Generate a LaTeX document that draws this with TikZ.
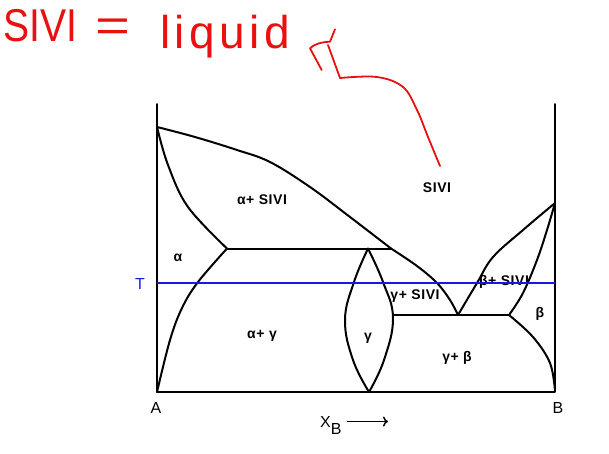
\documentclass[tikz,border=0pt]{standalone}
\usepackage{fontspec}
\usetikzlibrary{arrows.meta}
\setmainfont{Liberation Sans}
\definecolor{handred}{RGB}{232,16,16}
\definecolor{tblue}{RGB}{24,24,230}
\begin{document}
\begin{tikzpicture}[x=1pt,y=-1pt,
  curve/.style={line width=2pt, line join=round, line cap=round},
  lbl/.style={font=\fontsize{14}{14}\selectfont\bfseries\addfontfeature{LetterSpace=4}, inner sep=0pt},
  axlbl/.style={font=\fontsize{16}{16}\selectfont, inner sep=0pt},
  hand/.style={draw=handred, line width=1.8pt, line cap=round, line join=round},
  handtext/.style={text=handred, font=\fontsize{46}{46}\selectfont, inner sep=0pt}]
\useasboundingbox (0,0) rectangle (609,453);
% key points
\coordinate (Atop) at (157,104);
\coordinate (A0) at (157,392);
\coordinate (B0) at (555,392);
\coordinate (Btop) at (555,104);
\coordinate (Am) at (157,127);
\coordinate (P1) at (227,248.5);
\coordinate (P2) at (391,248.5);
\coordinate (G1) at (368,248.5);
\coordinate (Gb) at (369,392);
\coordinate (E1) at (393,315);
\coordinate (E) at (458,315);
\coordinate (E2) at (509,315);
\coordinate (Bm) at (555,203);
\coordinate (Bb) at (555,391);
\coordinate (T0) at (157,283);
\coordinate (T1) at (555,283);
% frame
\draw[curve] (Atop) -- (A0) -- (B0) -- (Btop);
% liquidus
\draw[curve] plot[smooth, tension=0.6] coordinates {(157,127) (195,137) (237,150) (270,162) (310,187) (350,217) (391,248.5)};
\draw[curve] plot[smooth, tension=0.6] coordinates {(391,248.5) (417,266) (437,283) (450,300) (458,315)};
% alpha solidus
\draw[curve] plot[smooth, tension=0.6] coordinates {(157,127) (168,165) (188,207) (227,248.5)};
% peritectic line
\draw[curve] (P1) -- (P2);
% alpha solvus
\draw[curve] plot[smooth, tension=0.6] coordinates {(227,248.5) (198,282) (182,308) (170,340) (157,392)};
% gamma lens
\draw[curve] plot[smooth, tension=0.7] coordinates {(368,248.5) (354,282) (345,320) (353,360) (369,392)};
\draw[curve] plot[smooth, tension=0.7] coordinates {(368,248.5) (383,282) (393,318) (384,360) (369,392)};
% eutectic line
\draw[curve] (E1) -- (E2);
% beta liquidus
\draw[curve] plot[smooth, tension=0.6] coordinates {(458,315) (477,283) (493,257) (523,230) (555,203)};
% beta solidus
\draw[curve] plot[smooth, tension=0.6] coordinates {(555,203) (547,230) (537,260) (523,293) (509,315)};
% beta solvus
\draw[curve] plot[smooth, tension=0.6] coordinates {(509,315) (533,337) (550,363) (555,391)};
% labels
\node[lbl] (sivi) at (437,188) {SIVI};
\node[lbl] (asivi) at (262,200) {α+ SIVI};
\node[lbl] (alpha) at (178,258) {α};
\node[lbl] (ag) at (262,336) {α+ γ};
\node[lbl] (gam) at (368,338) {γ};
\node[lbl] (gsivi) at (415,296) {γ+ SIVI};
\node[lbl] (bsivi) at (504,282) {β+ SIVI};
\node[lbl] (bet) at (540,314) {β};
\node[lbl] (gb) at (457,358) {γ+ β};
% T line
\draw[draw=tblue, line width=2pt] (T0) -- (T1);
\node[axlbl, text=tblue] (T) at (140,284) {T};
% axis labels
\node[axlbl] (A) at (156,408) {A};
\node[axlbl] (B) at (558,408) {B};
\node[axlbl, anchor=base west] (xb) at (320,427) {X\raisebox{-7pt}{B}};
\coordinate (xarr) at (388,421.5);
\draw[line width=1.4pt, -{To[length=5pt,width=10pt]}] (xb.east |- xarr) ++(5,0) coordinate (xarr0) -- (xarr);
% handwritten note
\node[handtext, anchor=base west] (note) at (3,41) {\scalebox{0.85}[1]{SIVI}\hspace{18pt}\scalebox{1.3}[1]{=}\hspace{30pt}\raisebox{-7pt}{\addfontfeature{LetterSpace=10}liquid}};
\draw[hand] plot[smooth, tension=0.6] coordinates {(440,166) (428,137) (417,110) (403,87) (377,77) (340,78)} -- (328,45);
\draw[hand] (321.7,70) -- (310,48.3) .. controls (314,44) and (322,42) .. (330,41.7) -- (335,29.3);
\end{tikzpicture}
\end{document}
